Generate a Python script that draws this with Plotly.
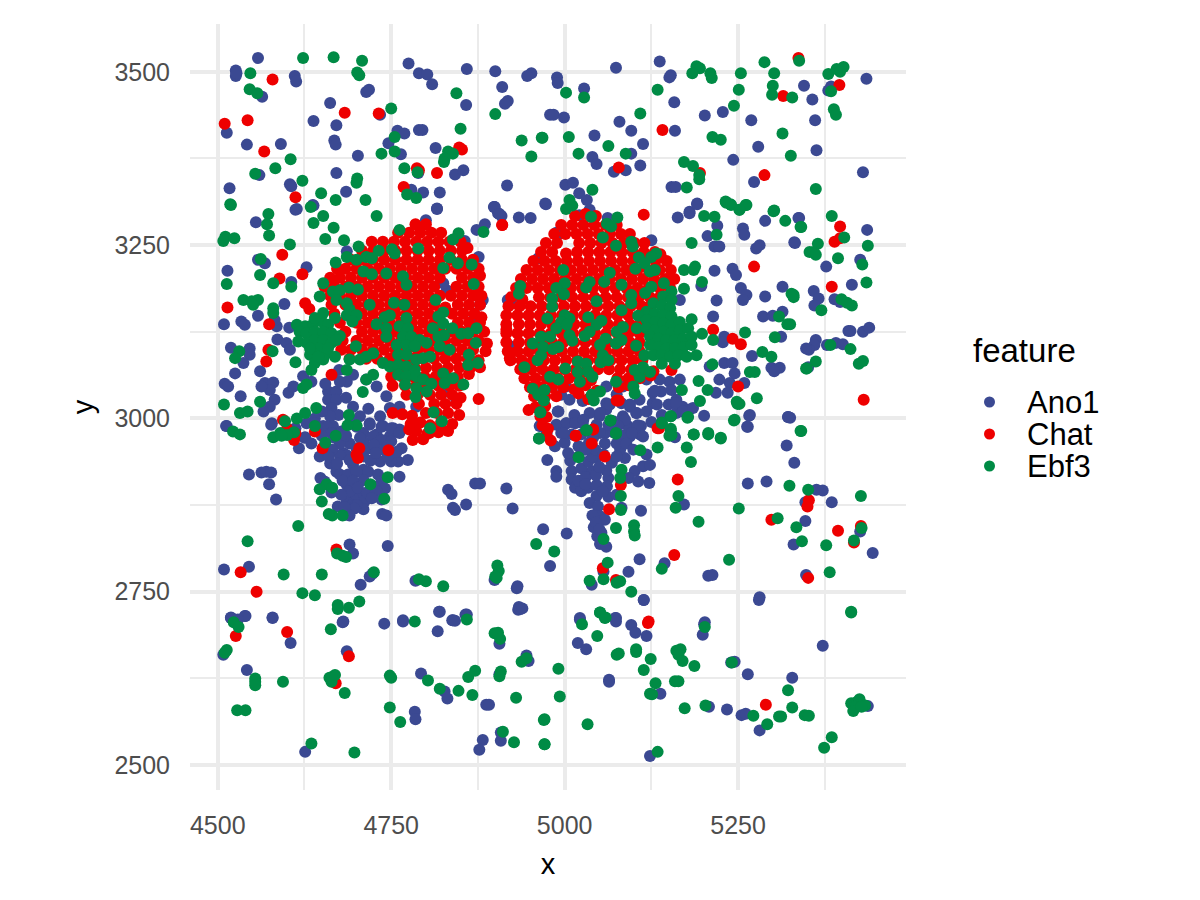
import plotly.graph_objects as go

# (x, y)
ano1_points = [
    (4558,3520),(4526,3502),(4526,3494),(4527,3498),(4611,3494),(4613,3486),(4564,3464),(4775,3512),(4790,3498),(4802,3496),
    (4809,3482),(4859,3504),(4900,3501),(4952,3498),(4946,3494),(4910,3478),(4918,3458),(4914,3454),(4714,3471),(4718,3474),
    (4662,3455),(4858,3452),(4734,3438),(4638,3429),(4671,3423),(4513,3412),(4542,3395),(4591,3396),(4668,3401),(4670,3395),
    (4759,3415),(4769,3411),(4790,3416),(4795,3416),(4746,3397),(4814,3390),(4702,3379),(4764,3381),(4560,3351),(4671,3354),
    (4604,3338),(4606,3335),(4517,3332),(4685,3327),(4612,3301),(4638,3307),(4789,3354),(4796,3326),(4820,3326),(4779,3330),
    (4842,3352),(4854,3358),(4917,3336),(4816,3303),(4899,3305),(4972,3310),(4979,3438),
    (5074,3506),(5137,3515),(5153,3495),(5151,3492),(4989,3492),(4990,3484),(5028,3476),(5158,3456),(5345,3480),(5435,3490),
    (5384,3479),(5380,3473),(5357,3460),(4984,3438),(4999,3434),(5202,3437),(5228,3442),(5269,3430),(5361,3430),(5079,3428),
    (5096,3415),(5159,3415),(5043,3408),(5113,3396),(5279,3392),(5363,3387),(5096,3382),(5040,3377),(5046,3367),(5109,3365),
    (5243,3373),(5071,3356),(5088,3358),(5001,3337),(5012,3340),(5273,3341),(5430,3355),(5021,3325),(5032,3315),(5154,3334),
    (5160,3334),(5191,3310),(5036,3301),(5180,3298),
    (5338,3289),(5332,3253),(5436,3272),(5377,3219),(5426,3229),(5414,3193),(5359,3184),(5366,3173),(5360,3163),(5389,3172),
    (5397,3168),(5409,3126),(5412,3126),(5430,3125),(5439,3131),(5362,3113),(5360,3106),(5352,3099),(5378,3106),(5391,3109),
    (5401,3107),(5351,3074),(5325,3001),
    (4637,3308),(4614,3302),(4555,3283),(4816,3302),(4898,3305),(4904,3296),(4909,3292),(4873,3272),(4885,3280),(4800,3286),
    (4856,3256),(4876,3233),(4514,3213),(4568,3224),(4558,3229),(4606,3197),(4628,3218),(4686,3241),(4596,3165),(4558,3148),
    (4534,3140),(4539,3135),(4509,3136),(4585,3133),(4582,3142),(4603,3131),(4586,3114),(4599,3109),(4604,3099),(4519,3102),
    (4546,3101),(4546,3092),(4537,3080),(4525,3065),(4561,3068),(4510,3050),(4515,3046),(4568,3051),(4580,3052),(4575,3041),
    (4563,3046),(4533,3032),(4602,3037),(4609,3046),(4582,3027),(4575,3017),(4566,3010),(4578,2993),(4513,2989),
    (4666,3063),(4659,3039),(4671,3039),(4659,3027),(4671,3027),(4664,3015),(4674,3005),(4662,3003),(4652,2989),(4666,2989),
    (4678,2981),(4695,3063),(4686,3053),(4676,3053),(4714,3056),(4729,3046),(4743,3032),(4695,3017),(4717,3014),(4705,3003),
    (4734,3003),(4748,3015),(4762,3017),(4719,2993),(4738,2989),(4753,2986),(4762,2984),(4710,2979),(4729,2977),(4748,2974),
    (4786,3017),(4626,2973),(4635,3053),(4623,3061),(4612,2986),(4830,3039),(4844,3025),(4878,3164),(4882,3171),(4870,3145),
    (4830,3185),(4825,3195),(4918,3171),(4921,3104),(4675,3070),(4655,3050),(4685,3030),(4650,3010),(4692,2998),(4640,3000),
    (4512,2989),(4577,2991),(4545,2919),(4563,2922),(4570,2923),(4577,2922),(4574,2905),(4584,2883),
    (4625,2972),(4635,2964),(4617,2957),(4647,2945),(4662,2935),(4671,2923),(4648,2914),(4654,2909),(4664,2893),(4686,2904),
    (4676,2919),(4681,2950),(4690,2964),(4700,2957),(4710,2967),(4724,2974),(4736,2969),(4750,2967),(4765,2957),(4774,2940),
    (4760,2938),(4750,2938),(4734,2938),(4720,2939),(4710,2926),(4717,2923),(4710,2911),(4731,2919),(4736,2909),(4724,2902),
    (4741,2899),(4729,2895),(4736,2883),(4705,2887),(4712,2881),(4695,2885),(4686,2880),(4693,2875),(4710,2869),(4673,2873),
    (4684,2861),(4737,2862),(4743,2860),(4628,2993),(4640,2993),(4657,2988),(4664,2979),(4678,2979),(4700,2988),(4719,2991),
    (4736,2988),(4750,2986),(4762,2979),(4676,2964),(4686,2947),(4676,2947),(4719,2957),(4738,2955),(4758,2952),(4695,2933),
    (4688,2919),(4700,2923),(4665,2955),(4690,2895),(4700,2875),(4678,2890),
    (4650,2975),(4668,2972),(4685,2975),(4705,2972),(4725,2962),(4745,2960),(4660,2945),(4672,2935),(4690,2940),(4710,2945),
    (4728,2950),(4745,2945),(4680,2910),(4695,2910),(4702,2900),(4715,2893),(4722,2885),(4697,2870),(4683,2872),(4690,2860),
    (4832,2897),(4837,2891),(4842,2868),(4839,2871),(4858,2876),(4871,2906),(4878,2906),(4916,2899),(4925,2870),(4762,2916),
    (4745,2816),(4690,2818),(4695,2805),(4509,2782),(4545,2786),(4706,2760),(4719,2772),(4723,2776),(4785,2766),(4899,2767),
    (4931,2755),(4933,2724),(4519,2713),(4539,2715),(4579,2713),(4681,2707),(4767,2709),(4819,2721),(4839,2709),(4857,2717),
    (4988,3268),(4995,3267),(4962,3231),(4899,3305),(4906,3295),(4934,3290),(4951,3289),(4973,3309),(5021,3293),(5062,3289),
    (5125,3257),(5163,3290),(5180,3296),(5191,3309),(5220,3278),(5206,3263),(5216,3248),(5223,3248),(5257,3274),(5259,3265),
    (5289,3285),(5337,3289),(5281,3250),(5276,3245),(5331,3254),(5216,3213),(5242,3216),(5247,3207),(5197,3191),(5254,3188),
    (5262,3178),(5257,3171),(5219,3170),(5289,3176),(5314,3190),(5214,3147),(5286,3147),(5300,3148),(5314,3154),(5312,3118),
    (5230,3118),(5228,3110),(5270,3090),(5230,3080),(5242,3080),(5245,3065),(5238,3051),(5223,3056),(5259,3051),(5235,3037),
    (5218,3037),(5298,3073),(5310,3073),(5302,3068),(5348,3101),(5322,3002),(5266,3004),(5263,2988),(4923,3171),(4921,3104),
    (5166,3171),(5209,3075),
    (5151,3053),(5166,3056),(5139,3039),(5127,3037),(5154,3041),(5127,3022),(5161,3027),(5170,3017),(5180,3013),(5161,3008),
    (5094,3017),(5103,3008),(5084,3003),(5110,2989),(5060,3013),(5050,3003),(5036,3008),(5014,3005),(4990,3010),(5002,2993),
    (4988,2991),(5026,2993),(5046,2991),(5070,2996),(5091,2989),(5058,2979),(5108,2977),(4966,2989),(4974,2979),(4995,2979),
    (5010,2977),(5024,2977),(5041,2974),(5094,2974),(5060,3046),(5084,3046),(5002,3046),(4995,3034),(5007,3027),(5026,3025),
    (5060,3022),(5082,3022),(5118,3056),(5137,3056),(5108,3027),(5040,3035),(5075,3035),(5130,3040),
    (4991,3010),(4964,2989),(4986,2960),(4975,2940),(5008,2939),(4988,2924),(4988,2916),(5010,2924),(5010,2912),(5015,2900),
    (5024,2895),(5034,2900),(5046,2904),(5063,2914),(5061,2902),(5039,2924),(5024,2928),(5034,2938),(5046,2943),(5068,2936),
    (5087,2943),(5101,2924),(5113,2931),(5123,2933),(5092,2914),(5106,2909),(5122,2907),(5046,2888),(5063,2887),(5036,2878),
    (5048,2873),(5082,2871),(5110,2867),(5051,2859),(5058,2854),(5042,2843),(5053,2835),(5051,2819),(5060,2815),(5075,2890),
    (5000,2965),(5020,2960),(5035,2965),(5040,2945),(5020,2945),(5005,2950),(5070,2980),(5085,2975),(5080,2955),(5105,2990),
    (5125,2995),(5140,3005),(5150,3020),(5020,2910),(5030,2915),(5045,2918),(5060,2925),(5055,2895),(5040,2860),(5045,2850),
    (5047,2830),(5050,2840),(5030,2905),
    (4969,2840),(5003,2834),(4979,2787),(5056,2779),(5039,2760),(5108,2797),(5144,2791),(5092,2779),(5207,2773),(5213,2774),
    (5114,2738),(5281,2742),(5022,2712),(5073,2712),(5202,2706),(5172,2876),(5159,2973),(5201,3004),(5267,3005),(5264,2988),
    (5322,3002),(5320,2961),(5331,2936),(5264,2906),(5291,2909),(5363,2897),(5372,2896),(5347,2879),(5385,2879),(5347,2852),
    (5330,2818),(5426,2837),(5444,2806),(5348,2774),(4932,2758),(4934,2728),
    (5003,2993),(5015,2993),(5027,2998),(5051,3008),(5065,3020),(5051,2979),(5058,2964),(5075,2964),(5089,2964),(5097,2979),
    (5113,2974),(5099,2955),(5118,2948),(5087,2998),(5104,3008),(5094,3020),(5118,3010),(5133,3020),(5161,3022),(5171,3010),
    (5185,3015),(4998,2979),(5044,2955),(5056,2948),(5041,2972),(5063,2991),(5077,2989),(5030,2955),(5050,2930),(5075,2945),
    (4519,2712),(4540,2715),(4529,2710),(4579,2712),(4605,2676),(4508,2659),(4542,2637),(4686,2664),(4680,2706),(4740,2704),
    (4767,2707),(4820,2721),(4817,2693),(4838,2709),(4842,2708),(4859,2717),(4936,2725),(4939,2726),(4906,2675),(4945,2658),
    (4948,2650),(4793,2632),(4827,2606),(4831,2596),(4887,2587),(4891,2587),(4906,2631),(4784,2577),(4785,2566),(4908,2547),
    (4908,2535),(4882,2536),(4877,2522),(4626,2519),
    (5114,2738),(5280,2738),(5022,2710),(5074,2712),(5074,2707),(5096,2702),(5102,2691),(5118,2686),(5019,2676),(5031,2667),
    (5201,2703),(5199,2688),(5372,2672),(5245,2649),(5240,2648),(5264,2631),(5328,2626),(5064,2623),(5064,2620),(5138,2603),
    (5208,2584),(5234,2580),(5255,2572),(5261,2574),(5281,2550),(5123,2513),(5437,2585),
]

chat_points = [
    (4785,3280),(4800,3280),
    (4760,3268),(4776,3268),(4792,3268),(4808,3268),(4822,3268),
    (4722,3255),(4738,3255),(4754,3255),(4770,3255),(4786,3255),(4802,3255),(4818,3255),(4834,3255),(4850,3255),
    (4708,3242),(4724,3242),(4740,3242),(4756,3242),(4772,3242),(4788,3242),(4804,3242),(4820,3242),(4836,3242),(4852,3242),(4860,3246),
    (4692,3229),(4708,3229),(4724,3229),(4740,3229),(4756,3229),(4772,3229),(4788,3229),(4804,3229),(4820,3229),(4836,3229),(4852,3229),(4868,3229),
    (4672,3216),(4684,3216),(4700,3216),(4716,3216),(4732,3216),(4748,3216),(4764,3216),(4780,3216),(4796,3216),(4812,3216),(4828,3216),(4844,3216),(4860,3216),(4876,3216),
    (4662,3203),(4676,3203),(4692,3203),(4708,3203),(4724,3203),(4740,3203),(4756,3203),(4772,3203),(4788,3203),(4804,3203),(4820,3203),(4852,3203),(4868,3203),(4878,3206),
    (4654,3190),(4668,3190),(4684,3190),(4700,3190),(4716,3190),(4732,3190),(4748,3190),(4764,3190),(4780,3190),(4796,3190),(4812,3190),(4844,3190),(4860,3190),(4876,3190),
    (4662,3177),(4676,3177),(4692,3177),(4708,3177),(4724,3177),(4740,3177),(4756,3177),(4772,3177),(4788,3177),(4804,3177),(4820,3177),(4836,3177),(4852,3177),(4868,3177),(4880,3177),
    (4626,3166),(4632,3158),(4664,3164),(4684,3164),(4700,3164),(4716,3164),(4732,3164),(4748,3164),(4764,3164),(4780,3164),(4796,3164),(4812,3164),(4828,3160),(4846,3164),(4862,3164),(4878,3164),
    (4668,3151),(4692,3151),(4708,3151),(4724,3151),(4740,3151),(4756,3151),(4772,3151),(4788,3151),(4804,3151),(4820,3151),(4838,3151),(4854,3151),(4870,3151),(4880,3146),
    (4676,3138),(4700,3138),(4716,3138),(4732,3138),(4748,3138),(4764,3138),(4780,3138),(4796,3138),(4812,3138),(4846,3138),(4862,3138),(4878,3138),
    (4684,3125),(4708,3125),(4724,3125),(4740,3125),(4756,3125),(4772,3125),(4788,3125),(4804,3125),(4820,3125),(4836,3125),(4852,3125),(4868,3125),(4884,3125),
    (4680,3112),(4700,3112),(4716,3112),(4732,3112),(4748,3112),(4764,3112),(4780,3112),(4796,3112),(4812,3112),(4828,3112),(4844,3112),(4860,3112),(4876,3112),(4888,3108),
    (4678,3099),(4692,3099),(4708,3099),(4724,3099),(4740,3099),(4756,3099),(4772,3099),(4788,3099),(4804,3099),(4820,3099),(4836,3099),(4852,3099),(4868,3099),(4886,3097),
    (4690,3086),(4714,3086),(4730,3086),(4748,3086),(4764,3086),(4780,3086),(4796,3086),(4812,3086),(4828,3086),(4844,3086),(4860,3086),(4876,3084),
    (4752,3073),(4768,3073),(4784,3073),(4800,3073),(4816,3073),(4832,3073),(4848,3073),(4864,3073),(4878,3074),
    (4750,3060),(4766,3060),(4782,3060),(4798,3060),(4814,3060),(4830,3060),(4846,3060),(4862,3064),
    (4752,3047),(4770,3047),(4786,3047),(4802,3047),(4818,3047),(4834,3047),(4848,3047),
    (4772,3034),(4788,3034),(4806,3034),(4822,3034),(4838,3034),(4850,3030),
    (4790,3021),(4812,3021),(4828,3021),(4844,3021),
    (4752,3008),(4766,3006),(4780,3004),(4800,3008),(4816,3008),(4832,3008),(4848,3005),
    (4778,2992),(4786,2982),(4792,2994),(4806,2990),(4822,2995),(4838,2992),(4802,2978),(4818,2980),(4832,2982),(4796,2970),
    (4622,3208),(4593,3236),(4589,3202),(4514,3160),(4574,3136),(4664,3063),(4876,3028),(4916,3128),(4921,3087),(4910,3279),
    (4570,3082),(4573,3099),(4651,2957),(4704,2957),(4702,2943),(4746,2954),(4610,2969),(4640,2981),(4781,2969),(4776,2984),
    (4805,2979),(4820,2988),(4671,2811),(4533,2778),(4556,2750),(4594,2998),(4600,2985),(4612,2978),(4700,2948),
    (5015,3292),(5030,3295),(5045,3292),
    (4995,3279),(5011,3279),(5027,3279),(5043,3279),(5059,3279),(5075,3279),
    (4985,3266),(5001,3266),(5017,3266),(5033,3266),(5049,3266),(5065,3266),(5081,3266),(5094,3266),
    (4973,3253),(4989,3253),(5021,3253),(5037,3253),(5053,3253),(5069,3253),(5085,3253),(5101,3253),(5115,3253),
    (4966,3240),(4982,3240),(5002,3238),(5018,3240),(5034,3240),(5050,3240),(5066,3240),(5082,3240),(5098,3240),(5114,3240),(5130,3240),(5138,3237),
    (4955,3227),(4971,3227),(4987,3227),(5003,3227),(5019,3227),(5035,3227),(5051,3227),(5067,3227),(5083,3227),(5099,3227),(5115,3227),(5131,3227),(5147,3227),
    (4945,3214),(4961,3214),(4977,3214),(4993,3214),(5009,3214),(5025,3214),(5041,3214),(5057,3214),(5073,3214),(5089,3214),(5105,3214),(5121,3214),(5137,3214),(5153,3214),
    (4937,3201),(4953,3201),(4969,3201),(4985,3201),(5001,3201),(5017,3201),(5033,3201),(5049,3201),(5065,3201),(5081,3201),(5097,3201),(5113,3201),(5129,3201),(5145,3201),(5158,3201),
    (4930,3188),(4945,3188),(4961,3188),(4977,3188),(4993,3188),(5009,3188),(5025,3188),(5041,3188),(5057,3188),(5073,3188),(5089,3188),(5105,3188),(5121,3188),(5137,3188),(5152,3188),
    (4923,3175),(4939,3172),(4963,3175),(4979,3175),(4995,3175),(5011,3175),(5027,3175),(5043,3175),(5059,3175),(5075,3175),(5091,3175),(5107,3175),(5123,3175),(5137,3175),
    (4919,3162),(4935,3162),(4951,3162),(4967,3162),(4983,3162),(4999,3162),(5015,3162),(5031,3162),(5047,3162),(5063,3162),(5079,3162),(5095,3162),(5111,3162),(5123,3162),
    (4916,3149),(4932,3149),(4948,3149),(4964,3149),(4980,3149),(4996,3149),(5012,3149),(5028,3149),(5044,3149),(5060,3149),(5076,3149),(5092,3149),(5108,3149),
    (4916,3136),(4934,3136),(4950,3136),(4966,3136),(4982,3136),(4998,3136),(5014,3136),(5030,3136),(5046,3136),(5062,3136),(5078,3136),(5094,3136),(5108,3136),
    (4916,3123),(4932,3123),(4948,3123),(4964,3123),(4980,3123),(4996,3123),(5012,3123),(5028,3123),(5044,3123),(5060,3123),(5076,3123),(5092,3123),(5108,3123),
    (4916,3110),(4934,3110),(4950,3110),(4966,3110),(4982,3110),(4998,3110),(5014,3110),(5030,3110),(5046,3110),(5062,3110),(5078,3110),(5094,3110),(5108,3110),
    (4918,3097),(4932,3097),(4948,3097),(4964,3097),(4980,3097),(4996,3097),(5012,3097),(5028,3097),(5044,3097),(5060,3097),(5076,3097),(5092,3097),(5108,3097),
    (4922,3084),(4938,3084),(4954,3084),(4970,3084),(4986,3084),(5002,3084),(5018,3084),(5034,3084),(5050,3084),(5066,3084),(5082,3084),(5098,3084),(5112,3084),
    (4936,3071),(4952,3071),(4968,3071),(4984,3071),(5000,3071),(5016,3071),(5032,3071),(5048,3071),(5064,3071),(5080,3071),(5096,3071),(5112,3071),(5128,3068),
    (4942,3058),(4958,3058),(4974,3058),(4990,3058),(5006,3058),(5022,3058),(5038,3055),(5076,3058),(5092,3058),(5108,3058),(5124,3062),
    (4950,3045),(4966,3045),(4982,3045),(4998,3045),(5014,3042),(5030,3048),(5046,3040),(5078,3045),(5092,3048),(5100,3056),
    (4956,3032),(4972,3032),(4988,3032),(5020,3036),(5034,3028),(5078,3026),
    (4948,3012),(4958,3016),(4972,3018),(4965,3003),(4974,3002),(4968,2990),(4976,2985),(4974,2975),(4980,2968),
    (5016,2975),(5039,2964),(5041,2984),(5058,2945),(5081,2904),(5064,2869),(5136,2986),(5163,2912),(5158,2803),(5055,2784),
    (5298,2854),(5352,2882),(5350,2873),(5394,2838),(5417,2821),(5427,2845),(5351,2770),(5074,2767),(5121,2707),(5431,3027),
    (4910,3279),(5114,3294),(5273,3219),(5214,3128),(5242,3115),(5254,3107),(5250,3046),(5075,3026),(5154,3070),(5134,2986),
    (5041,2984),(5016,2975),
    (4579,3489),(4683,3441),(4732,3440),(4510,3425),(4543,3430),(4567,3385),(4848,3391),(4852,3388),(4787,3361),(4790,3358),
    (4816,3354),(4768,3334),(4612,3319),(5337,3520),(5315,3465),(5396,3481),(5141,3416),(5078,3362),(5195,3354),(5288,3351),
    (5397,3277),(5389,3255),(5397,3260),(5385,3190),(4526,2686),(4600,2692),(4689,2657),(4670,2618),(5120,2705),(5290,2587),
]

ebf3_points = [
    (4623,3520),(4667,3521),(4708,3516),(4547,3498),(4701,3499),(4704,3495),(4546,3475),(4557,3469),(4844,3469),(4750,3447),
    (4900,3439),(4850,3418),(4938,3401),(4967,3405),(4952,3378),(4755,3406),(4736,3382),(4755,3385),(4832,3385),(4839,3382),
    (4827,3375),(4826,3370),(4605,3374),(4583,3361),(4554,3353),(4769,3361),(4788,3355),(4701,3346),(4700,3340),(4622,3343),
    (4649,3325),(4670,3315),(4713,3315),(4518,3309),(4634,3305),(4773,3323),(4786,3318),
    (5002,3470),(5028,3463),(5134,3474),(5190,3508),(5195,3505),(5184,3498),(5210,3498),(5212,3491),(5254,3498),(5288,3514),
    (5302,3498),(5338,3516),(5300,3480),(5299,3467),(5328,3463),(5251,3474),(5244,3451),(5380,3497),(5392,3504),(5397,3500),
    (5402,3507),(5384,3472),(5388,3446),(5391,3438),(5109,3440),(4968,3405),(5006,3406),(5020,3382),(5063,3393),(5088,3382),
    (5314,3411),(5213,3406),(5225,3402),(5326,3379),(5172,3370),(5185,3364),(5194,3351),(5194,3345),(5176,3333),(5040,3330),
    (5007,3315),(5362,3331),(5232,3313),(5239,3309),(5261,3308),(5252,3301),(5302,3300),(5011,3307),(5002,3302),
    (4519,3308),(4573,3295),(4571,3280),(4574,3264),(4511,3262),(4508,3256),(4524,3260),(4604,3251),(4652,3292),(4638,3282),
    (4667,3275),(4655,3259),(4682,3257),(4729,3292),(4762,3272),(4847,3267),(4839,3258),(4883,3269),(4789,3245),(4751,3244),
    (4755,3238),(4732,3242),(4703,3248),(4686,3233),(4700,3229),(4714,3233),(4722,3231),(4710,3212),(4722,3208),(4743,3209),
    (4670,3225),(4562,3230),(4561,3207),(4580,3195),(4606,3190),(4513,3194),(4652,3195),(4647,3176),(4666,3183),(4676,3185),
    (4689,3189),(4702,3186),(4671,3171),(4686,3166),(4690,3157),(4686,3149),(4700,3149),(4694,3140),(4719,3164),(4754,3167),
    (4769,3164),(4767,3205),(4772,3193),(4814,3171),(4825,3217),(4834,3232),(4846,3224),(4866,3222),(4869,3194),(4825,3153),
    (4818,3147),(4825,3137),(4838,3130),(4810,3130),(4818,3118),(4826,3120),(4820,3104),(4834,3099),(4851,3122),(4861,3123),
    (4873,3130),(4872,3109),(4862,3092),(4861,3077),(4875,3080),
    (4614,3135),(4626,3133),(4638,3137),(4650,3140),(4659,3135),(4669,3145),(4652,3152),(4640,3145),(4618,3125),(4628,3123),
    (4640,3125),(4652,3125),(4664,3123),(4676,3119),(4616,3111),(4628,3109),(4640,3113),(4652,3113),(4664,3109),(4671,3113),
    (4633,3092),(4645,3097),(4657,3094),(4669,3089),(4640,3080),(4652,3085),(4635,3070),(4645,3101),(4633,3101),(4659,3101),
    (4645,3089),
    (4772,3145),(4748,3149),(4741,3146),(4729,3136),(4743,3130),(4762,3133),(4774,3130),(4743,3118),(4767,3118),(4779,3118),
    (4791,3113),(4801,3109),(4758,3106),(4772,3106),(4784,3104),(4699,3104),(4724,3094),(4714,3089),(4705,3085),(4690,3085),
    (4686,3070),(4738,3080),(4748,3075),(4760,3092),(4772,3092),(4786,3085),(4796,3087),(4806,3089),(4760,3077),(4772,3075),
    (4784,3070),(4760,3063),(4772,3061),(4786,3061),(4796,3056),(4808,3050),(4770,3049),(4786,3044),(4801,3039),(4785,3031),
    (4825,3065),(4827,3051),(4839,3058),(4854,3049),(4714,3056),(4724,3063),(4709,3038),(4811,3009),(4823,2996),(4806,2986),
    (4689,3005),(4700,2990),(4626,3008),(4642,3015),(4640,2989),(4597,2996),(4614,3000),(4532,3008),(4543,3010),(4522,2981),
    (4532,2977),(4580,2973),(4590,2979),(4509,3020),(4561,3024),(4623,3044),(4628,3049),(4612,3081),(4579,3097),(4531,3097),
    (4525,3087),(4537,3171),(4549,3169),(4558,3171),(4551,3164),(4580,3159),(4580,3152),
    (5038,3291),(5076,3290),(5061,3281),(5067,3277),(5055,3261),(5074,3249),(5096,3255),(5098,3248),(5132,3238),(5125,3233),
    (5107,3232),(5102,3216),(5115,3224),(5123,3212),(5130,3214),(5065,3210),(5057,3197),(5036,3197),(5031,3189),(5082,3193),
    (4998,3214),(5000,3195),(4988,3188),(4999,3179),(4936,3191),(4934,3180),(4982,3173),(4982,3161),(5046,3169),(5096,3178),
    (5096,3166),(5082,3156),(5116,3181),(5125,3190),(5143,3195),(4975,3144),(5000,3149),(5007,3144),(4995,3139),(4988,3130),
    (5003,3135),(5034,3146),(5053,3141),(5046,3135),(5084,3132),(5075,3125),(5036,3125),(5029,3119),(5007,3120),(5011,3112),
    (5059,3115),(5051,3106),(5074,3108),(5082,3113),(5103,3105),(4954,3108),(4966,3118),(4979,3118),(4969,3103),(4983,3100),
    (4991,3103),(4966,3091),(4961,3084),(4942,3074),(5001,3072),(4979,3060),(4991,3056),(5019,3082),(5031,3079),(5019,3067),
    (5034,3067),(5040,3060),(5022,3053),(5055,3091),(5052,3081),(5063,3084),(5074,3053),(4954,3043),(4962,3034),(4971,3041),
    (4970,3026),(4965,3009),(5039,3034),(5051,3039),(5042,3026),(5099,3046),(5101,3036),(5108,3060),(5101,3070),(5113,3074),
    (5123,3067),
    (5154,3183),(5142,3176),(5154,3171),(5128,3166),(5140,3163),(5152,3159),(5118,3154),(5130,3151),(5142,3149),(5154,3147),
    (5106,3148),(5118,3142),(5130,3139),(5142,3137),(5154,3135),(5166,3139),(5183,3143),(5104,3130),(5118,3130),(5130,3127),
    (5142,3125),(5154,3123),(5166,3127),(5178,3130),(5123,3118),(5135,3115),(5147,3113),(5159,3113),(5171,3115),(5183,3118),
    (5198,3122),(5214,3113),(5123,3106),(5135,3103),(5147,3101),(5159,3101),(5171,3103),(5183,3106),(5190,3091),(5115,3091),
    (5128,3091),(5140,3091),(5152,3089),(5164,3091),(5176,3089),(5140,3079),(5159,3079),
    (5172,3214),(5186,3214),(5188,3219),(5198,3197),(5172,3187),(5183,3253),(5201,3292),(5216,3291),(5219,3265),(5233,3311),
    (5240,3308),(5262,3308),(5252,3301),(5301,3299),(5318,3285),(5340,3276),(5327,3180),(5330,3175),(5309,3147),(5321,3136),
    (5303,3117),(5260,3124),(5285,3096),(5298,3089),(5267,3067),(5274,3067),(5213,3078),(5193,3054),(5206,3041),(5169,3041),
    (5195,3025),(5248,3024),(5252,3021),(5277,3029),(5244,2997),(5177,3001),(5153,3003),(5140,2994),(5153,2983),(5154,2976),
    (5066,2997),(5031,2983),(5074,2978),(4963,2971),(5186,2977),(5207,2977),(5225,2971),(5340,2982),(5348,3072),(5353,3240),
    (5385,3292),(5341,3276),(5403,3261),(5437,3249),(5365,3252),(5359,3240),(5362,3236),(5394,3231),(5429,3222),(5435,3196),
    (5330,3178),(5370,3156),(5399,3172),(5407,3167),(5414,3163),(5383,3106),(5412,3100),(5424,3079),(5430,3083),(5362,3082),
    (5349,3072),(5325,3136),
    (4965,3009),(4963,2971),(5020,2944),(5032,2983),(5066,2997),(5074,2979),(5109,2954),(5134,2958),(5140,2993),(5153,3003),
    (5153,2985),(5151,2975),(5178,3002),(5186,2977),(5207,2979),(5225,2972),(5176,2958),(5182,2937),(5245,2998),(5341,2982),
    (5249,3021),(5082,2926),(5080,2914),(5081,2888),(5081,2868),(5164,2888),(5160,2871),(5193,2851),(5251,2870),(5324,2903),
    (5351,2897),(5427,2888),(5307,2856),(5334,2843),(5100,2846),(5100,2837),(5101,2831),(5074,2842),(5056,2826),(4959,2819),
    (4985,2808),(5062,2792),(5056,2768),(5036,2766),(5075,2763),(5080,2765),(5096,2750),(5140,2783),(5237,2796),(5342,2823),
    (5377,2817),(5417,2824),(5428,2842),(5382,2778),(5413,2721),(5051,2720),(5058,2712),
    (4687,2990),(4670,2975),(4655,2965),(4610,2980),(4600,2976),(4592,2975),(4657,2905),(4665,2900),(4647,2898),(4650,2880),
    (4720,2905),(4745,2915),(4740,2884),(4680,2860),(4665,2860),(4660,2862),(4616,2845),(4543,2823),(4672,2805),(4680,2802),
    (4685,2800),(4595,2775),(4650,2775),(4725,2778),(4800,2765),(4790,2768),(4825,2758),(4622,2748),(4640,2745),(4673,2731),
    (4903,2788),(4905,2780),(4900,2772),(4902,2770),
    (4523,2706),(4530,2699),(4513,2666),(4510,2662),(4554,2625),(4554,2620),(4554,2615),(4594,2620),(4528,2579),(4540,2579),
    (4673,2725),(4689,2727),(4704,2736),(4663,2696),(4784,2707),(4859,2710),(4899,2690),(4904,2691),(4907,2682),(4938,2649),
    (4945,2654),(4665,2627),(4661,2626),(4664,2620),(4669,2630),(4683,2604),(4748,2629),(4750,2626),(4803,2622),(4820,2610),
    (4847,2607),(4867,2601),(4861,2627),(4871,2636),(4908,2635),(4906,2628),(4930,2597),(4748,2583),(4763,2562),(4971,2566),
    (4911,2548),(4927,2533),(4971,2530),(4635,2531),(4697,2518),
    (5051,2720),(5059,2713),(5025,2703),(5047,2686),(5202,2699),(5413,2720),(5078,2661),(5075,2659),(5103,2667),(5103,2663),
    (5124,2653),(5114,2637),(5161,2665),(5167,2667),(5164,2659),(5170,2650),(5187,2643),(5241,2648),(4991,2639),(4993,2599),
    (5131,2618),(5159,2621),(5164,2621),(5123,2603),(5126,2602),(5173,2582),(5203,2586),(4970,2565),(5033,2559),(4971,2530),
    (5134,2519),(5272,2571),(5292,2559),(5309,2570),(5312,2570),(5328,2583),(5322,2608),(5346,2572),(5352,2571),(5385,2540),
    (5374,2525),(5413,2589),(5421,2591),(5425,2595),(5433,2586),(5418,2584),(5416,2578),(5428,2584),
]

features = ['Ano1', 'Chat', 'Ebf3']
feature_colors = ['#3B4992', '#EE0000', '#008B45']
x_ticks = [4500, 4750, 5000, 5250]
y_ticks = [2500, 2750, 3000, 3250, 3500]

FONT = 'Liberation Sans'
GRID = '#EBEBEB'

fig = go.Figure()
for name, pts, color in zip(features, [ano1_points, chat_points, ebf3_points], feature_colors):
    fig.add_trace(go.Scatter(
        x=[p[0] for p in pts], y=[p[1] for p in pts],
        mode='markers', name=name,
        marker=dict(color=color, size=12, line=dict(width=0)),
        showlegend=False
    ))

# page body has an 8px margin, so the figure is 8px smaller than the window
fig.update_layout(
    width=1192, height=892,
    margin=dict(l=182, r=294, t=16, b=110),
    paper_bgcolor='white', plot_bgcolor='white',
    font=dict(family=FONT, color='black'),
    xaxis=dict(
        range=[4460, 5492], tickvals=x_ticks, showgrid=True, gridcolor=GRID, gridwidth=3.5,
        minor=dict(tickvals=[4625, 4875, 5125, 5375], showgrid=True, gridcolor=GRID, gridwidth=2, ticks=''),
        zeroline=False, showline=False, ticks='outside', ticklen=13, tickcolor='rgba(0,0,0,0)',
        tickfont=dict(size=25, color='#4D4D4D'),
        title=dict(text='x', font=dict(size=29), standoff=15)
    ),
    yaxis=dict(
        range=[2464, 3569], tickvals=y_ticks, showgrid=True, gridcolor=GRID, gridwidth=3.5,
        minor=dict(tickvals=[2625, 2875, 3125, 3375], showgrid=True, gridcolor=GRID, gridwidth=2, ticks=''),
        zeroline=False, showline=False, ticks='outside', ticklen=14, tickcolor='rgba(0,0,0,0)',
        tickfont=dict(size=25, color='#4D4D4D'),
        title=dict(text='y', font=dict(size=29), standoff=12)
    ),
)

# legend drawn by hand: plotly's own legend can't pack rows this tightly at this font size
legend_rows = [402, 434, 466]
for name, color, row in zip(features, feature_colors, legend_rows):
    yp = 1 - (row - 24) / 766
    fig.add_shape(type='circle', xref='paper', yref='paper',
                  x0=(984 - 190) / 716, x1=(995 - 190) / 716,
                  y0=yp - 5.5 / 766, y1=yp + 5.5 / 766,
                  fillcolor=color, line=dict(width=0))
    fig.add_annotation(text=name, xref='paper', yref='paper', x=(1025 - 190) / 716, y=yp,
                       xanchor='left', yanchor='middle', showarrow=False,
                       font=dict(size=31, family=FONT, color='black'))
fig.add_annotation(text='feature', xref='paper', yref='paper', x=(971 - 190) / 716, y=1 - (350 - 24) / 766,
                   xanchor='left', yanchor='middle', showarrow=False,
                   font=dict(size=33, family=FONT, color='black'))

fig.write_html("out.html")
